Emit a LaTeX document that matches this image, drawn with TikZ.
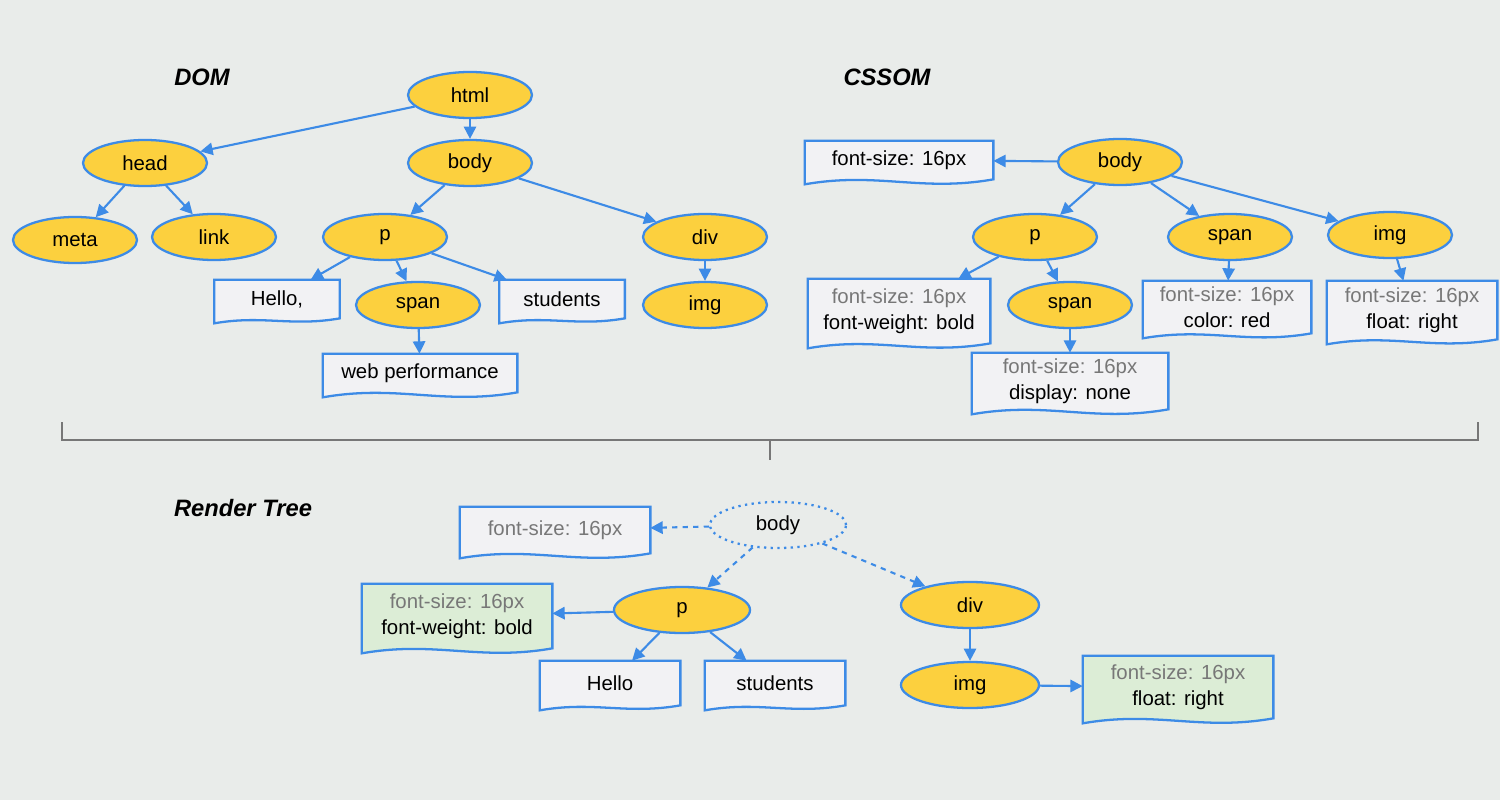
\documentclass[tikz,border=0pt]{standalone}
\usepackage{fontspec}
\setmainfont{Liberation Sans}
\usetikzlibrary{shapes.geometric,arrows.meta,calc}
\definecolor{bg}{HTML}{E9ECEA}
\definecolor{bl}{HTML}{3D8BE6}
\definecolor{yl}{HTML}{FCD03E}
\definecolor{dg}{HTML}{F2F2F4}
\definecolor{gr}{HTML}{DCEDD6}
\definecolor{gt}{HTML}{777777}
\definecolor{br}{HTML}{777777}
\tikzset{
 el/.style={ellipse,draw=bl,line width=1.3pt,fill=yl,minimum width=124*0.02cm,minimum height=46*0.02cm,font=\fontsize{11.6}{13}\selectfont},
 dot/.style={ellipse,draw=bl,line width=1.3pt,dash pattern=on 1.3pt off 2.5pt,minimum width=136*0.02cm,minimum height=46*0.02cm,font=\fontsize{11.6}{13}\selectfont},
 doc/.style={inner sep=0pt,align=center,font=\fontsize{11.6}{14.5}\selectfont},
 docline/.style={draw=bl,line width=1.3pt},
 ar/.style={draw=bl,line width=1.2pt,-{Triangle[length=7pt,width=7pt]}},
 da/.style={ar,dashed},
 ttl/.style={font=\bfseries\itshape\fontsize{13.5}{15}\selectfont}
}
\newcommand\docbox[6]{%
 \node[doc,minimum width=#3*0.02cm,minimum height=#4*0.02cm] (#1) at #2 {#6};
 \begin{pgfonlayer}{background}
 \filldraw[docline,fill=#5] ($(#1.south west)+(0,5)$) -- (#1.north west) -- (#1.north east) -- (#1.south east) to[out=190,in=10] ($(#1.south west)+(0,5)$) -- cycle;
 \end{pgfonlayer}}
\pgfdeclarelayer{background}\pgfsetlayers{background,main}
\newcommand\gtl[1]{\textcolor{gt}{#1}}
\begin{document}
\begin{tikzpicture}[x=0.02cm,y=-0.02cm]
\begin{pgfonlayer}{background}
\fill[bg] (0,0) rectangle (1500,800);
\end{pgfonlayer}
\useasboundingbox (0,0) rectangle (1500,800);
% titles
\node[ttl] (tdom) at (202,77) {DOM};
\node[ttl] (tcss) at (887,77) {CSSOM};
\node[ttl] (trt) at (243,508) {Render Tree};
% DOM
\node[el] (html) at (470,95) {html};
\node[el] (head) at (145,163) {head};
\node[el] (body) at (470,163) {body};
\node[el] (meta) at (75,240) {meta};
\node[el] (link) at (214,237) {link};
\node[el] (p) at (385,237) {p};
\node[el] (div) at (705,237) {div};
\node[el] (span) at (418,305) {span};
\node[el] (img) at (705,305) {img};
\docbox{hello}{(277,299)}{125}{38}{dg}{Hello,}
\docbox{stud}{(562,299)}{125}{38}{dg}{students}
\docbox{web}{(420,373)}{194}{38}{dg}{web performance}
\draw[ar] (html) -- (head);
\draw[ar] (html) -- (body);
\draw[ar] (head) -- (meta);
\draw[ar] (head) -- (link);
\draw[ar] (body) -- (p);
\draw[ar] (body) -- (div);
\draw[ar] (p) -- (hello);
\draw[ar] (p) -- (span);
\draw[ar] (p) -- (stud);
\draw[ar] (span) -- (web);
\draw[ar] (div) -- (img);
% CSSOM
\docbox{cfs}{(899,160)}{188}{38}{dg}{font-size: 16px}
\node[el] (cbody) at (1120,162) {body};
\node[el] (cp) at (1035,237) {p};
\node[el] (cspan) at (1230,237) {span};
\node[el] (cimg) at (1390,235) {img};
\node[el] (cspan2) at (1070,305) {span};
\docbox{cpd}{(899,311)}{182}{64}{dg}{\gtl{font-size: 16px}\\font-weight: bold}
\docbox{cs2d}{(1070,381)}{196}{56}{dg}{\gtl{font-size: 16px}\\display: none}
\docbox{csd}{(1227,307)}{168}{52}{dg}{\gtl{font-size: 16px}\\color: red}
\docbox{cid}{(1412,310)}{170}{58}{dg}{\gtl{font-size: 16px}\\float: right}
\draw[ar] (cbody) -- (cfs);
\draw[ar] (cbody) -- (cp);
\draw[ar] (cbody) -- (cspan);
\draw[ar] (cbody) -- (cimg);
\draw[ar] (cp) -- (cpd);
\draw[ar] (cp) -- (cspan2);
\draw[ar] (cspan2) -- (cs2d);
\draw[ar] (cspan) -- (csd);
\draw[ar] (cimg) -- (cid);
% brace
\coordinate (b1) at (62,422);
\coordinate (b2) at (1478,422);
\coordinate (bm) at (770,460);
\draw[br,line width=1.2pt] (b1) -- ++(0,18) -- ($(b2)+(0,18)$) -- (b2);
\draw[br,line width=1.2pt] ($(bm)+(0,-20)$) -- (bm);
% Render tree
\node[dot] (rbody) at (778,525) {body};
\docbox{rfs}{(555,530)}{190}{46}{dg}{\gtl{font-size: 16px}}
\node[el,minimum width=136*0.02cm] (rp) at (682,610) {p};
\node[el,minimum width=138*0.02cm] (rdiv) at (970,605) {div};
\node[el,minimum width=138*0.02cm] (rimg) at (970,685) {img};
\docbox{rpd}{(457,616)}{190}{64}{gr}{\gtl{font-size: 16px}\\font-weight: bold}
\docbox{rhello}{(610,683)}{140}{44}{dg}{Hello}
\docbox{rstud}{(775,683)}{140}{44}{dg}{students}
\docbox{rid}{(1178,687)}{190}{62}{gr}{\gtl{font-size: 16px}\\float: right}
\draw[da] (rbody) -- (rfs);
\draw[da] (rbody) -- (rp);
\draw[da] (rbody) -- (rdiv);
\draw[ar] (rp) -- (rpd);
\draw[ar] (rp) -- (rhello);
\draw[ar] (rp) -- (rstud);
\draw[ar] (rdiv) -- (rimg);
\draw[ar] (rimg) -- (rid);
\end{tikzpicture}
\end{document}
